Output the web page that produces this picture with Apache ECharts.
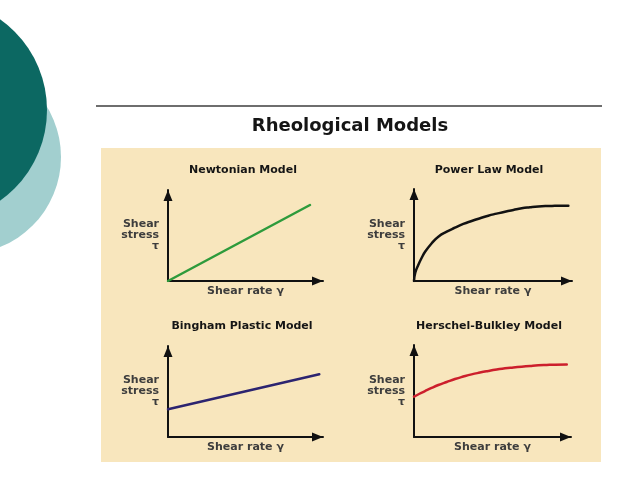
<!DOCTYPE html>
<html>
<head>
<meta charset="utf-8">
<script src="https://cdn.jsdelivr.net/npm/echarts@6/dist/echarts.min.js"></script>
<style>
html,body{margin:0;padding:0;background:#fff;}
#c{width:638px;height:478px;}
</style>
</head>
<body>
<div id="c"></div>
<script>
const mainTitle = 'Rheological Models';
const modelTitles = ['Newtonian Model', 'Power Law Model', 'Bingham Plastic Model', 'Herschel-Bulkley Model'];
const xName = 'Shear rate γ';
const yName = 'Shear\nstress\nτ';
const newtonian = [[0, 0], [9.16, 8.35]];
const powerLaw = [[0, 0], [0.08, 0.9], [0.27, 1.74], [0.49, 2.53], [0.7, 3.18], [1.12, 4.1], [1.54, 4.82], [2.07, 5.36], [2.59, 5.79], [3.12, 6.2], [3.65, 6.52], [4.18, 6.82], [4.7, 7.1], [5.23, 7.32], [5.76, 7.53], [6.29, 7.72], [6.82, 7.9], [7.34, 8.01], [7.87, 8.1], [8.4, 8.15], [8.92, 8.17], [9.35, 8.18], [9.77, 8.18]];
const bingham = [[0, 3.04], [9.76, 6.89]];
const herschel = [[0, 4.38], [0.35, 4.7], [0.7, 4.99], [1.12, 5.33], [1.55, 5.65], [2.08, 5.98], [2.61, 6.3], [3.14, 6.57], [3.67, 6.81], [4.2, 7.0], [4.73, 7.17], [5.27, 7.33], [5.8, 7.47], [6.33, 7.56], [6.86, 7.64], [7.39, 7.72], [7.92, 7.79], [8.45, 7.83], [8.98, 7.86], [9.73, 7.87]];

const seriesData = [newtonian, powerLaw, bingham, herschel];
const seriesColors = ['#2e9b3c', '#121212', '#2c2470', '#cc1f2c'];
const smoothFlags = [false, true, false, true];

const grids = [
  {left: 168, top: 190, width: 155, height: 91},
  {left: 414, top: 189, width: 158, height: 92},
  {left: 168, top: 346, width: 155, height: 91},
  {left: 414, top: 345, width: 157, height: 92}
];
const titlePos = [[243, 165], [489, 165], [242, 321], [489, 321]];

const FONT = 'DejaVu Sans';
const axisLineCfg = {
  show: true,
  onZero: false,
  symbol: ['none', 'triangle'],
  symbolSize: [9, 11],
  symbolOffset: [0, -5.5],
  lineStyle: {color: '#111', width: 2}
};

const option = {
  animation: false,
  backgroundColor: '#ffffff',
  graphic: [
    {type: 'circle', z: -100, shape: {cx: -36, cy: 157, r: 97}, style: {fill: '#a2cfcf'}},
    {type: 'circle', z: -99, shape: {cx: -64, cy: 110, r: 111}, style: {fill: '#0c6862'}},
    {type: 'line', z: -98, shape: {x1: 96, y1: 106, x2: 602, y2: 106}, style: {stroke: '#6e6e6e', lineWidth: 2}},
    {type: 'rect', z: -98, shape: {x: 101, y: 148, width: 500, height: 314}, style: {fill: '#f8e6bd'}}
  ],
  title: [
    {text: mainTitle, left: 350, top: 117, textAlign: 'center', padding: 0,
     textStyle: {fontFamily: FONT, fontSize: 18, fontWeight: 'bold', color: '#151515'}}
  ].concat(modelTitles.map((t, i) => ({
    text: t, left: titlePos[i][0], top: titlePos[i][1], textAlign: 'center', padding: 0,
    textStyle: {fontFamily: FONT, fontSize: 11, fontWeight: 'bold', color: '#151515'}
  }))),
  grid: grids,
  xAxis: grids.map((g, i) => ({
    type: 'value', gridIndex: i, min: 0, max: 10,
    name: xName, nameLocation: 'middle', nameGap: 4,
    nameTextStyle: {fontFamily: FONT, fontSize: 11, fontWeight: 'bold', color: '#3d3d3d', verticalAlign: 'top', lineHeight: 12},
    axisLine: axisLineCfg, axisTick: {show: false}, axisLabel: {show: false}, splitLine: {show: false}
  })),
  yAxis: grids.map((g, i) => ({
    type: 'value', gridIndex: i, min: 0, max: 10,
    name: yName, nameLocation: 'middle', nameRotate: 0, nameGap: 9,
    nameTextStyle: {fontFamily: FONT, fontSize: 11, fontWeight: 'bold', color: '#3d3d3d', align: 'right', lineHeight: 11, padding: [3, 0, 0, 0]},
    axisLine: axisLineCfg, axisTick: {show: false}, axisLabel: {show: false}, splitLine: {show: false}
  })),
  series: seriesData.map((d, i) => ({
    type: 'line', xAxisIndex: i, yAxisIndex: i, data: d,
    smooth: smoothFlags[i] ? 0.5 : false, showSymbol: false, silent: true,
    lineStyle: {color: seriesColors[i], width: 2.5, join: 'round', cap: 'round'}
  }))
};

const chart = echarts.init(document.getElementById('c'), null, {renderer: 'canvas'});
chart.setOption(option);
</script>
</body>
</html>
